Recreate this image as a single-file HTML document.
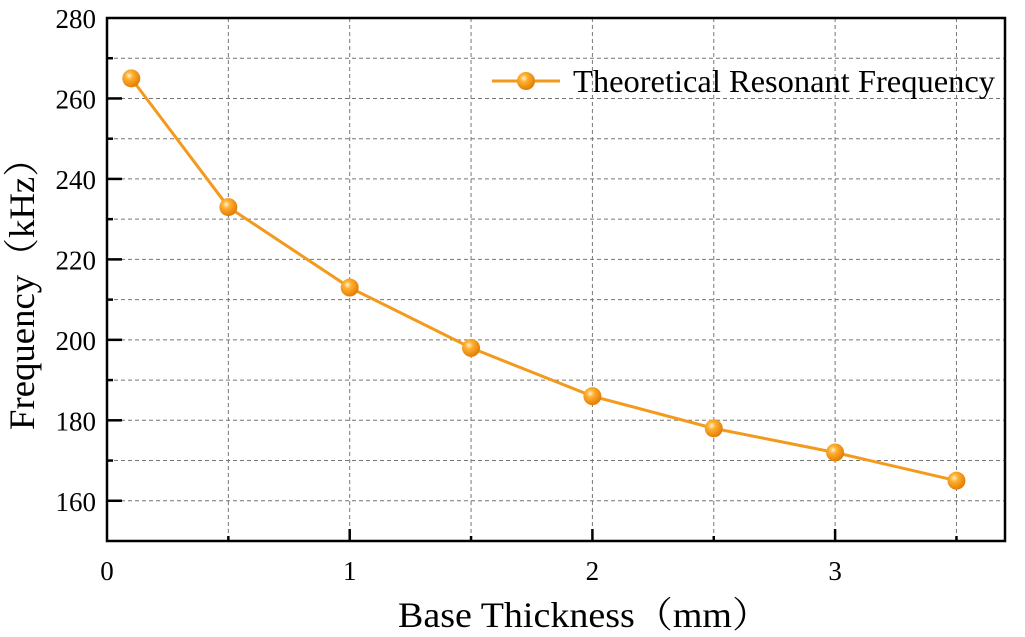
<!DOCTYPE html>
<html><head><meta charset="utf-8"><style>
html,body{margin:0;padding:0;background:#fff;}
svg text{font-family:"Liberation Serif","Noto Serif CJK SC",serif;fill:#000;}
</style></head><body>
<svg id="chart" width="1025" height="632" xmlns="http://www.w3.org/2000/svg">
<defs>
<radialGradient id="ball" cx="0.38" cy="0.35" r="0.7">
<stop offset="0" stop-color="#fff3d0"/><stop offset="0.3" stop-color="#ffb030"/><stop offset="1" stop-color="#e07800"/>
</radialGradient>
</defs>
<g id="grid"></g>
<g id="marks"></g>
<g id="axes"></g>
<text transform="translate(34,285) rotate(-90)" text-anchor="middle" font-size="36" textLength="290" lengthAdjust="spacingAndGlyphs">Frequency（kHz）</text>
<text x="584" y="627" text-anchor="middle" font-size="36" textLength="372" lengthAdjust="spacingAndGlyphs">Base Thickness（mm）</text>
<g>
<line x1="492" y1="81" x2="560" y2="81" stroke="#f39a1e" stroke-width="3"/>
<circle cx="526" cy="81" r="9" fill="url(#ball)"/>
<text x="573" y="92" font-size="32" textLength="422" lengthAdjust="spacingAndGlyphs">Theoretical Resonant Frequency</text>
</g>
</svg>
<script>
const xs=[0.1,0.5,1,1.5,2,2.5,3,3.5];
const ys=[265,233,213,198,186,178,172,165];
const xTicks=[0,1,2,3];
const yTicks=[160,180,200,220,240,260,280];
const L=107,R=1005,T=18,B=541,xMin=0,xMax=3.7,yMin=150,yMax=280;
const sx=v=>L+(v-xMin)/(xMax-xMin)*(R-L);
const sy=v=>B-(v-yMin)/(yMax-yMin)*(B-T);
const NS="http://www.w3.org/2000/svg";
function mk(p,t,a){const e=document.createElementNS(NS,t);for(const k in a)e.setAttribute(k,a[k]);p.appendChild(e);return e;}
const grid=document.getElementById('grid'),axes=document.getElementById('axes'),marks=document.getElementById('marks');
for(let v=0.5;v<xMax;v+=0.5){const l=mk(grid,'line',{x1:sx(v),x2:sx(v),y1:T,y2:B,stroke:'#777','stroke-width':1,'stroke-dasharray':'4,3'});

}
for(let v=160;v<yMax;v+=10){const l=mk(grid,'line',{x1:L,x2:R,y1:sy(v),y2:sy(v),stroke:'#777','stroke-width':1,'stroke-dasharray':'4,3'});

}
const fr=mk(axes,'rect',{x:L,y:T,width:R-L,height:B-T,fill:'none',stroke:'#000','stroke-width':2.5});


for(let v=0.5;v<xMax;v+=0.5){const maj=Math.abs(v-Math.round(v))<1e-6;mk(axes,'line',{x1:sx(v),x2:sx(v),y1:B,y2:B-(maj?12:5),stroke:'#000','stroke-width':2.5});}
for(let v=160;v<yMax;v+=10){const maj=v%20==0;mk(axes,'line',{x1:L,x2:L+(maj?15:6),y1:sy(v),y2:sy(v),stroke:'#000','stroke-width':2.5});}
xTicks.forEach(v=>{const t=mk(axes,'text',{x:sx(v),y:B+39,'text-anchor':'middle','font-size':27});t.textContent=v;

});
yTicks.forEach(v=>{const t=mk(axes,'text',{x:L-11,y:sy(v)+10,'text-anchor':'end','font-size':27});t.textContent=v;

});
const pl=mk(marks,'polyline',{points:xs.map((x,i)=>sx(x)+','+sy(ys[i])).join(' '),fill:'none',stroke:'#f39a1e','stroke-width':3});


xs.forEach((x,i)=>{const c=mk(marks,'circle',{cx:sx(x),cy:sy(ys[i]),r:9,fill:'url(#ball)'});

});
</script>
</body></html>
